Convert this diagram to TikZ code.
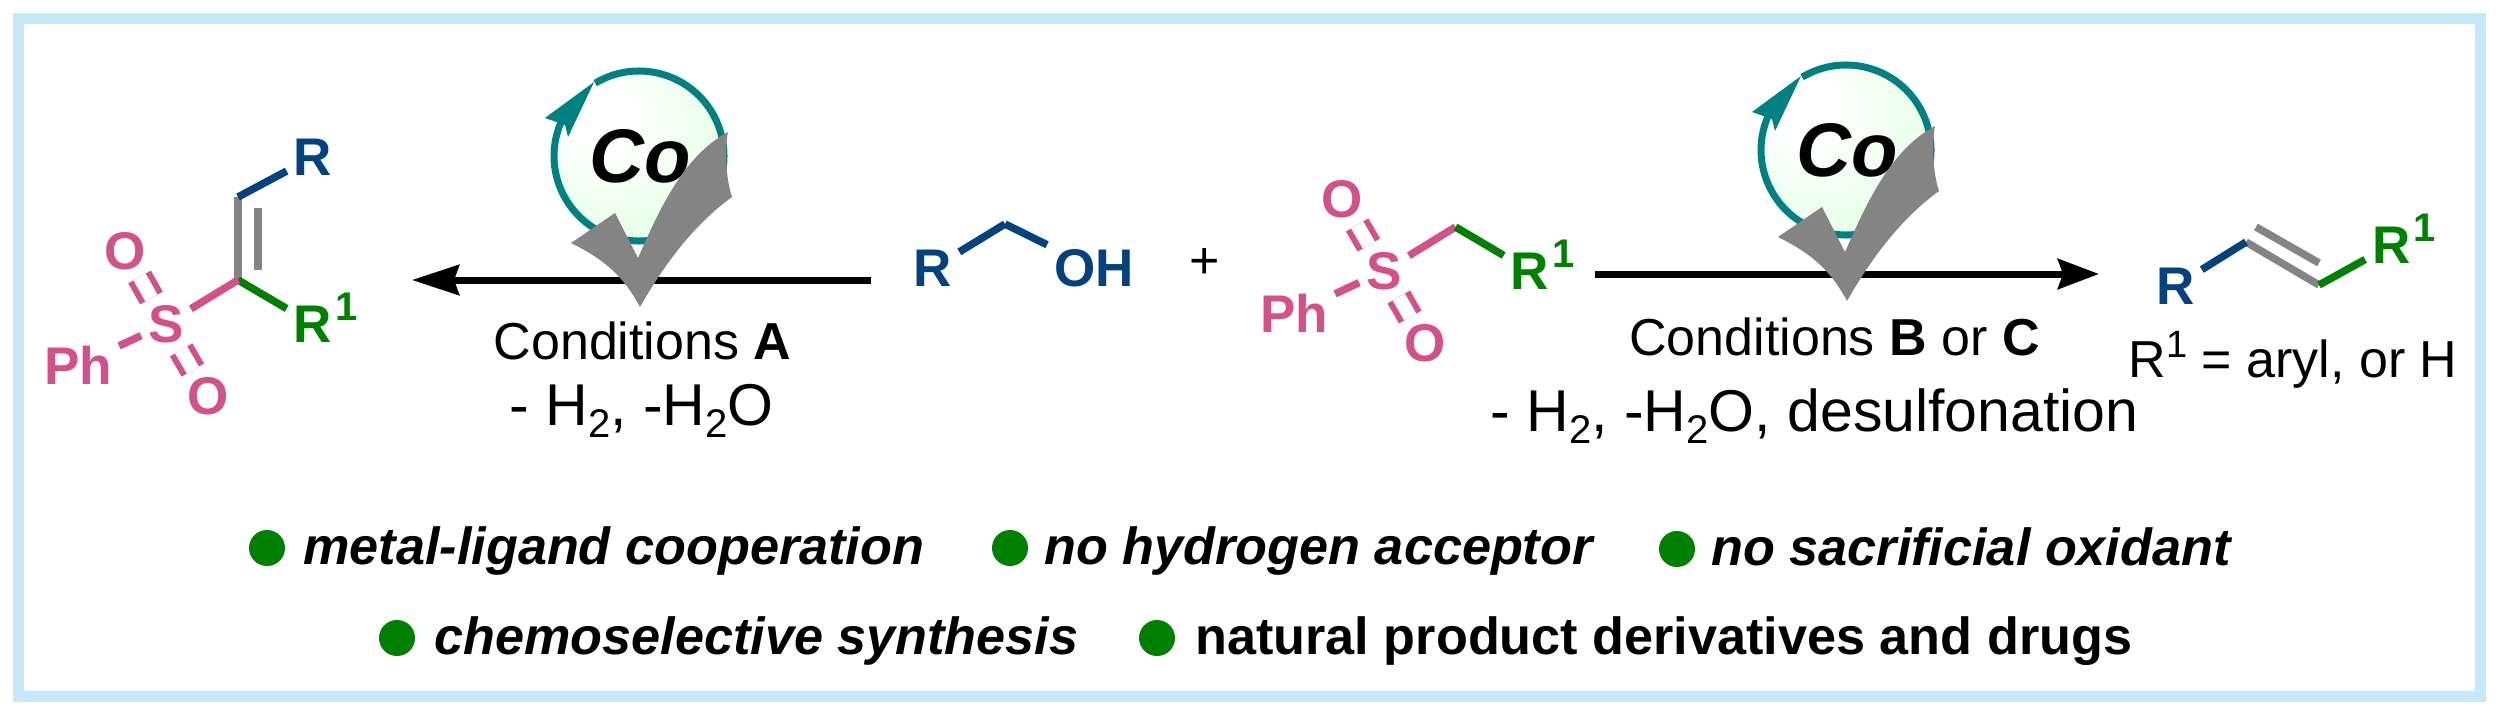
\documentclass[tikz,border=0pt]{standalone}
\usepackage{fontspec}
\setmainfont{Liberation Sans}
\usetikzlibrary{arrows.meta,positioning}
\definecolor{framecol}{HTML}{C5E9FB}
\definecolor{sulfcol}{HTML}{D4508A}
\definecolor{rcol}{HTML}{03417F}
\definecolor{ronecol}{HTML}{008000}
\definecolor{ringcol}{HTML}{008080}
\definecolor{markcol}{HTML}{848484}
\pgfdeclareradialshading{cohalo}{\pgfpoint{-12bp}{12bp}}{color(0bp)=(white); color(8bp)=(white); color(42bp)=(green!13); color(100bp)=(green!13)}
\newcommand{\supone}{\smash{\rlap{\hspace{3pt}\raisebox{22pt}{\fontsize{40}{40}\selectfont 1}}}}
\newcommand{\subtwo}{\raisebox{-12pt}{\fontsize{40}{40}\selectfont 2}}
\newcommand{\cocycle}[3]{
  \begin{scope}[shift={(#2,#3)}]
    \shade[shading=cohalo] (0,0) circle (85pt);
    \draw[ringcol, line width=7pt] (121:85pt) arc [start angle=121, end angle=-203, radius=85pt];
    \fill[ringcol] (-45,-74) -- (-94,-38) -- (-74,-31) -- (-71,-19) -- cycle;
    \node[font=\fontsize{76}{80}\selectfont\bfseries\itshape, inner sep=0] (#1) at (1,0) {Co};
    \fill[markcol] (1,151) .. controls (-18,115) and (-42,100) .. (-68,87) -- (-24,57) -- (-1,102)
      .. controls (22,50) and (45,0) .. (89,-24) .. controls (86,-10) and (86,20) .. (93,41)
      .. controls (60,65) and (30,100) .. cycle;
  \end{scope}
}
\begin{document}
\begin{tikzpicture}[x=1pt, y=-1pt,
    atom/.style = {font=\fontsize{53}{60}\selectfont\bfseries, inner sep=7pt},
    bond/.style = {line width=7.5pt},
    sobond/.style = {sulfcol, line width=6pt, double=white, double distance=14pt},
    note/.style = {font=\fontsize{52}{60}\selectfont, inner sep=0, anchor=base},
    lost/.style = {font=\fontsize{59}{66}\selectfont, inner sep=0, anchor=base},
    rxn/.style = {line width=7pt, -{Stealth[length=#1, width=30pt, inset=5pt]}},
    dot/.style = {circle, fill=ronecol, inner sep=0, minimum size=36pt},
    tag/.style = {font=\fontsize{52.2}{60}\selectfont\bfseries\itshape, inner sep=0, text height=43pt, text depth=11pt}]
  \fill[white] (0,0) rectangle (2500,715);
  \useasboundingbox (0,0) rectangle (2500,715);
  \draw[framecol, line width=11pt] (18.5,18.5) rectangle (2480.5,696);

  % vinyl sulfone
  \coordinate (v1) at (238,197);
  \coordinate (v2) at (238,280);
  \coordinate (v1i) at (258,208);
  \coordinate (v2i) at (258,270);
  \node[atom, text=rcol] (vr) at (313,157) {R};
  \node[atom, text=ronecol] (vr1) at (313,324) {R\supone};
  \node[atom, text=sulfcol] (vs) at (166,324) {S};
  \node[atom, text=sulfcol] (vo1) at (125,251) {O};
  \node[atom, text=sulfcol] (vo2) at (208,396) {O};
  \node[atom, text=sulfcol] (vph) at (78,365) {Ph};
  \draw[bond, markcol] (v2) -- (v1);
  \draw[bond, markcol] (v2i) -- (v1i);
  \draw[bond, rcol] (v1) -- (vr);
  \draw[bond, ronecol] (v2) -- (vr1);
  \draw[bond, sulfcol] (v2) -- (vs);
  \draw[bond, sulfcol] (vs) -- (vph);
  \draw[sobond] (vs) -- (vo1);
  \draw[sobond] (vs) -- (vo2);

  % alcohol
  \coordinate (a1) at (1005,224);
  \node[atom, text=rcol] (ar) at (933,268) {R};
  \node[atom, text=rcol] (aoh) at (1094,268) {OH};
  \draw[bond, rcol] (ar) -- (a1);
  \draw[bond, rcol] (a1) -- (aoh);
  \node[font=\fontsize{52}{60}\selectfont, inner sep=0] (plus) at (1205,263) {+};

  % sulfone
  \coordinate (s1) at (1455.5,227);
  \node[atom, text=sulfcol] (ss) at (1384,271) {S};
  \node[atom, text=sulfcol] (so1) at (1342,199) {O};
  \node[atom, text=sulfcol] (so2) at (1425,343) {O};
  \node[atom, text=sulfcol] (sph) at (1294,313) {Ph};
  \node[atom, text=ronecol] (sr1) at (1530,271) {R\supone};
  \draw[bond, sulfcol] (ss) -- (s1);
  \draw[bond, ronecol] (s1) -- (sr1);
  \draw[bond, sulfcol] (ss) -- (sph);
  \draw[sobond] (ss) -- (so1);
  \draw[sobond] (ss) -- (so2);

  % alkene
  \coordinate (e1) at (2246,242);
  \coordinate (e2) at (2319,285);
  \coordinate (e1i) at (2256,227);
  \coordinate (e2i) at (2319,263);
  \node[atom, text=rcol] (er) at (2175.5,286) {R};
  \node[atom, text=ronecol] (er1) at (2391.5,245) {R\supone};
  \draw[bond, markcol] (e1) -- (e2);
  \draw[bond, markcol] (e1i) -- (e2i);
  \draw[bond, rcol] (er) -- (e1);
  \draw[bond, ronecol] (e2) -- (er1);

  % reaction arrows
  \coordinate (la) at (871,280);
  \coordinate (lb) at (412,280);
  \coordinate (ra) at (1595,274);
  \coordinate (rb) at (2099,274);
  \draw[rxn=47pt] (la) -- (lb);
  \draw[rxn=41pt] (ra) -- (rb);
  \cocycle{coa}{639}{156}
  \cocycle{cob}{1846}{150}

  \node[note] (conda) at (642.5,359) {Conditions \textbf{A}};
  \node[lost] (losta) at (641.5,425) {- H\subtwo, -H\subtwo O};
  \node[note] (condb) at (1834.5,355) {Conditions \textbf{B} or \textbf{C}};
  \node[lost] (lostb) at (1814.5,431) {- H\subtwo, -H\subtwo O, desulfonation};
  \node[note] (rdef) at (2293,377) {R\raisebox{20pt}{\fontsize{38}{38}\selectfont 1} = aryl, or H};

  % features
  \node[dot] (d1) at (267,548) {};
  \node[dot] (d2) at (1010,548) {};
  \node[dot] (d3) at (1677,549) {};
  \node[dot] (d4) at (397,638) {};
  \node[dot] (d5) at (1157,638) {};
  \node[tag] (t1) [right=18pt of d1] {metal-ligand cooperation};
  \node[tag] (t2) [right=16pt of d2] {no hydrogen acceptor};
  \node[tag] (t3) [right=16pt of d3] {no sacrificial oxidant};
  \node[tag] (t4) [right=19pt of d4] {chemoselective synthesis};
  \node[tag, font=\fontsize{52.2}{60}\selectfont\bfseries] (t5) [right=20pt of d5] {natural product derivatives and drugs};
\end{tikzpicture}
\end{document}
